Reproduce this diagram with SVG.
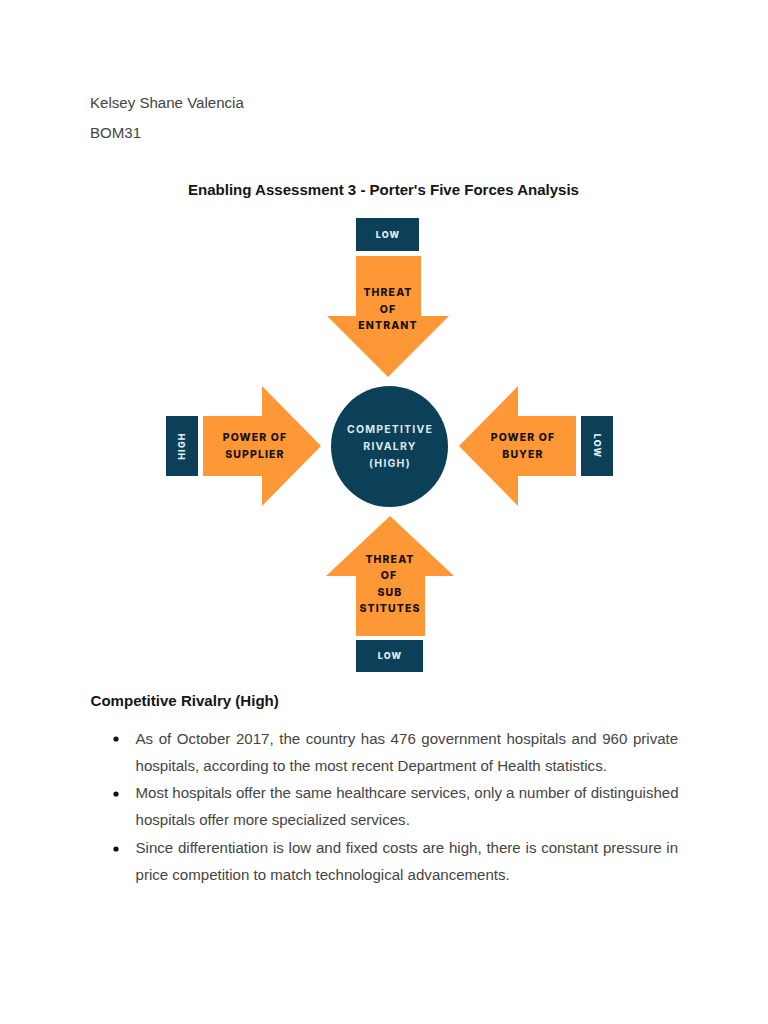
<svg xmlns="http://www.w3.org/2000/svg" width="768" height="1024" viewBox="0 0 768 1024">
<style>
.doc{font-family:"Liberation Sans",Arial,sans-serif;font-size:15.070px;fill:#444}
.head{font-family:"Liberation Sans",Arial,sans-serif;font-size:15.070px;font-weight:700;fill:#151515}
.arrow{fill:#fe9836}
.box{fill:#0c4059}
.lbl{font-family:"Inter","Liberation Sans",sans-serif;font-size:10.500px;font-weight:800;letter-spacing:1.1px;fill:#1a1008;text-anchor:middle}
.wht{font-family:"Inter","Liberation Sans",sans-serif;font-size:9px;font-weight:800;letter-spacing:1.2px;fill:#e8eef1;text-anchor:middle}
.cir{font-family:"Inter","Liberation Sans",sans-serif;font-size:10.500px;font-weight:700;letter-spacing:1.2px;fill:#dfe8ec;text-anchor:middle}
</style>
<rect width="768" height="1024" fill="#fff"/>
<g id="header">
<text class="doc" x="90" y="108">Kelsey Shane Valencia</text>
<text class="doc" x="90" y="138">BOM31</text>
<text class="head" x="188" y="195" textLength="391">Enabling Assessment 3 - Porter's Five Forces Analysis</text>
</g>
<g id="connectors">
<polygon id="arrow-entrant" class="arrow" points="356,256 421,256 421,316 449,316 388,377 327,316 356,316"/>
<polygon id="arrow-supplier" class="arrow" points="203,416 262,416 262,386 321,446 262,506 262,476 203,476"/>
<polygon id="arrow-buyer" class="arrow" points="576,416 518,416 518,386 459,446 518,506 518,476 576,476"/>
<polygon id="arrow-substitutes" class="arrow" points="356,636 425,636 425,576 454,576 390,516 326,576 356,576"/>
</g>
<g id="node-rivalry">
<ellipse class="box" cx="389.500" cy="446.500" rx="58.500" ry="60.500"/>
<text class="cir" x="390" y="433">COMPETITIVE</text>
<text class="cir" x="390" y="450">RIVALRY</text>
<text class="cir" x="390" y="467">(HIGH)</text>
</g>
<g id="node-entrant">
<text class="lbl" x="388" y="296">THREAT</text>
<text class="lbl" x="388" y="313">OF</text>
<text class="lbl" x="388" y="329">ENTRANT</text>
</g>
<g id="node-supplier">
<text class="lbl" x="255" y="441">POWER OF</text>
<text class="lbl" x="255" y="458">SUPPLIER</text>
</g>
<g id="node-buyer">
<text class="lbl" x="523" y="441">POWER OF</text>
<text class="lbl" x="523" y="458">BUYER</text>
</g>
<g id="node-substitutes">
<text class="lbl" x="390" y="563">THREAT</text>
<text class="lbl" x="389" y="579">OF</text>
<text class="lbl" x="390" y="596">SUB</text>
<text class="lbl" x="390" y="612">STITUTES</text>
</g>
<g id="level-top"><rect class="box" x="356" y="218" width="63" height="33"/><text class="wht" x="388" y="238">LOW</text></g>
<g id="level-bottom"><rect class="box" x="356" y="640" width="67" height="32"/><text class="wht" x="390" y="659">LOW</text></g>
<g id="level-left"><rect class="box" x="166" y="416" width="32" height="60"/><text class="wht" transform="translate(185,446) rotate(-90)">HIGH</text></g>
<g id="level-right"><rect class="box" x="581" y="416" width="32" height="60"/><text class="wht" transform="translate(594,446) rotate(90)">LOW</text></g>
<g id="body">
<text class="head" x="90.500" y="706">Competitive Rivalry (High)</text>
<circle cx="116" cy="739" r="2.600" fill="#111"/>
<circle cx="116" cy="794" r="2.600" fill="#111"/>
<circle cx="116" cy="849" r="2.600" fill="#111"/>
<text class="doc" x="135.500" y="744" word-spacing="1.400">As of October 2017, the country has 476 government hospitals and 960 private</text>
<text class="doc" x="135.500" y="771">hospitals, according to the most recent Department of Health statistics.</text>
<text class="doc" x="135.500" y="798">Most hospitals offer the same healthcare services, only a number of distinguished</text>
<text class="doc" x="135.500" y="825">hospitals offer more specialized services.</text>
<text class="doc" x="135.500" y="853" word-spacing="0.600">Since differentiation is low and fixed costs are high, there is constant pressure in</text>
<text class="doc" x="135.500" y="880">price competition to match technological advancements.</text>
</g>
</svg>
